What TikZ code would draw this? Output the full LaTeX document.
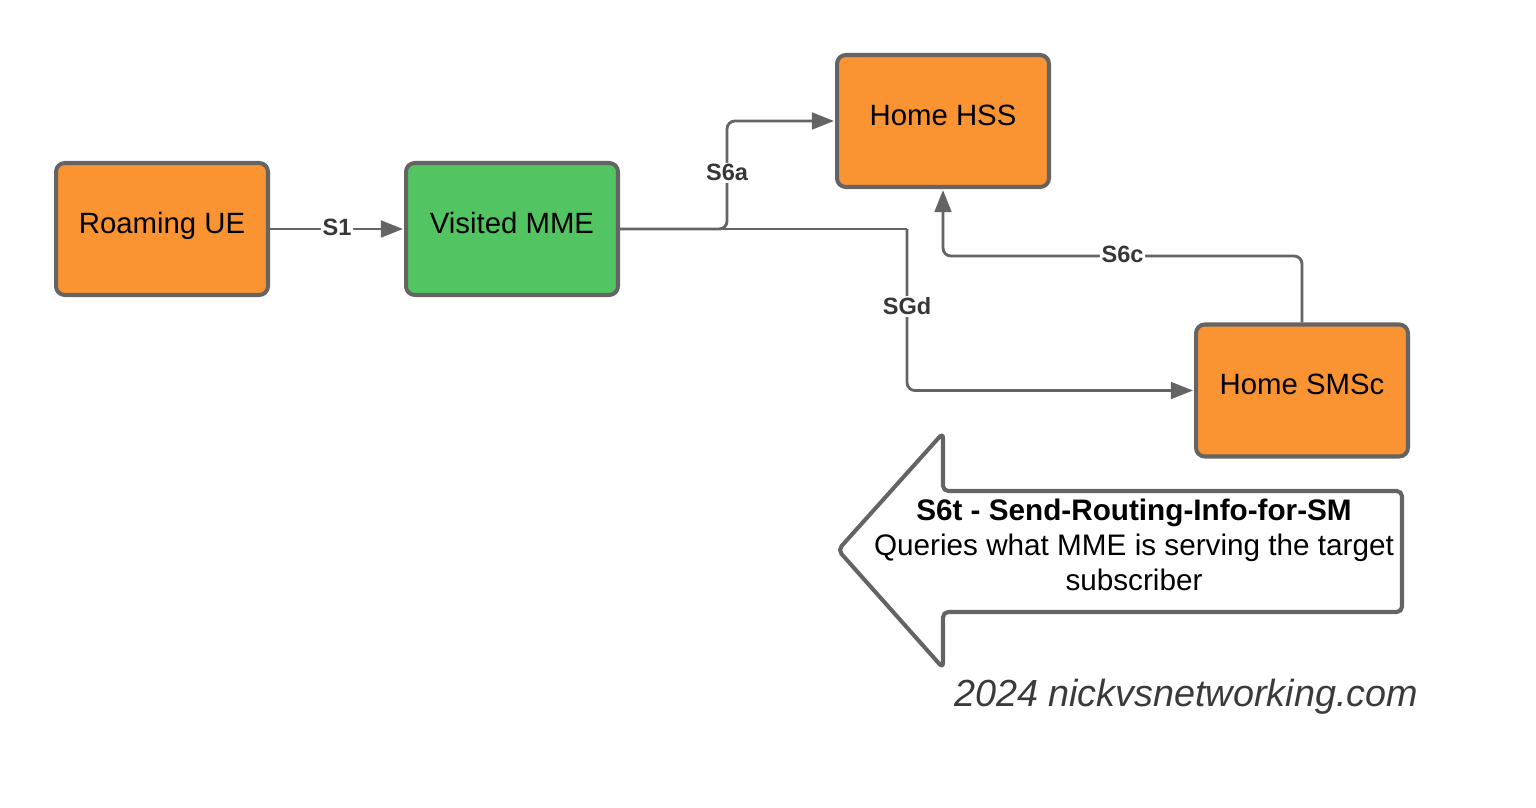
\documentclass[tikz,border=0pt]{standalone}
\usepackage{fontspec}
\setmainfont{Liberation Sans}
\usetikzlibrary{arrows.meta}
\definecolor{lineg}{HTML}{646464}
\definecolor{orng}{HTML}{FA9433}
\definecolor{grn}{HTML}{53C462}
\definecolor{foot}{HTML}{3A3A3A}
\tikzset{
  netbox/.style={draw=lineg, line width=2.3pt, rounded corners=5pt,
    minimum width=4.24cm, minimum height=2.64cm, inner sep=0pt,
    text height=8pt, text depth=2.9pt,
    font=\fontsize{16.7}{20}\selectfont, text=black},
  conn/.style={draw=lineg, line width=1.6pt, rounded corners=4.5pt,
    -{Triangle[length=12.5pt,width=9.5pt]}, shorten >=0.6pt},
  plainconn/.style={draw=lineg, line width=1.6pt, rounded corners=4.5pt},
  lbl/.style={fill=white, inner sep=1pt, text=lineg!55!black,
    font=\fontsize{13.4}{16}\selectfont\bfseries},
}
\begin{document}
\begin{tikzpicture}[x=0.02cm, y=-0.02cm]
\useasboundingbox (0,0) rectangle (1536,808);
% nodes
\node[netbox, fill=orng] (ue)   at (162,229)   {Roaming UE};
\node[netbox, fill=grn]  (mme)  at (512,229)   {Visited MME};
\node[netbox, fill=orng] (hss)  at (943,121)   {Home HSS};
\node[netbox, fill=orng] (smsc) at (1302,390.5) {Home SMSc};
% junction coordinates
\coordinate (j1) at (727,229);
\coordinate (j2) at (907,229);
\coordinate (j3) at (1302,256);
% connectors
\draw[conn] (ue.east) -- node[lbl, pos=0.5, yshift=1pt] {S1} (mme.west);
\draw[plainconn] (mme.east) -- (j2);
\draw[conn] (mme.east) -- (j1) |- node[lbl, pos=0.26] {S6a} (hss.west);
\draw[conn] (j2) |- node[lbl, pos=0.24] {SGd} (smsc.west);
\draw[conn] (smsc.north) -- (j3) -| node[lbl, pos=0.25, yshift=1pt] {S6c} (hss.south);
% big arrow callout
\draw[draw=lineg, line width=2.3pt, fill=white, rounded corners=3pt]
  (943,433) -- (838,550) -- (943,668) -- (943,612) -- (1402,612)
  -- (1402,491) -- (943,491) -- cycle;
\node[align=center, inner sep=0pt, font=\fontsize{16.9}{20}\selectfont] (note) at (1134,545)
  {\textbf{S6t - Send-Routing-Info-for-SM}\\Queries what MME is serving the target\\subscriber};
% footer
\node[text=foot, font=\fontsize{21.5}{25}\selectfont\itshape] (footer) at (1186,697) {2024 nickvsnetworking.com};
\end{tikzpicture}
\end{document}
